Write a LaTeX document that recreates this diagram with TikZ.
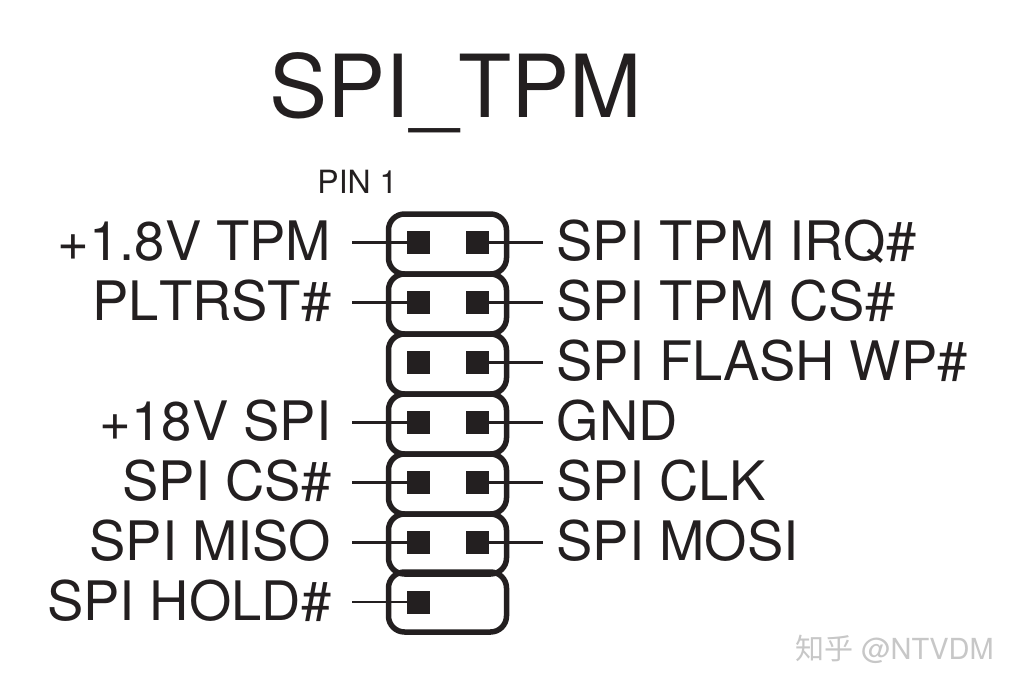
\documentclass[tikz,border=0pt]{standalone}
\usepackage{fontspec}
\setmainfont[Kerning=Off]{TeX Gyre Heros}
\newfontfamily\cjk{Noto Sans CJK SC}
\definecolor{ink}{HTML}{231F20}
\tikzset{
  cell/.style={draw=ink,line width=5.5pt,rounded corners=16pt,minimum width=118pt,minimum height=60pt,inner sep=0pt},
  pin/.style={fill=ink,minimum size=23pt,inner sep=0pt},
  wire/.style={draw=ink,line width=2.6pt},
  lefttext/.style={anchor=base east,inner sep=0pt,font=\fontsize{54.4}{54}\selectfont,text=ink},
  righttext/.style={anchor=base west,inner sep=0pt,font=\fontsize{54.4}{54}\selectfont,text=ink}
}
\begin{document}
\begin{tikzpicture}[x=1pt,y=-1pt]
\useasboundingbox (0,0) rectangle (1020,689);
\fill[white] (0,0) rectangle (1020,689);
\node[anchor=base,inner sep=0pt,font=\fontsize{87}{87}\selectfont,text=ink] (title) at (456,117) {SPI\_TPM};
\node[anchor=base,inner sep=0pt,font=\fontsize{32}{32}\selectfont,text=ink] (pinone) at (357.5,193) {PIN 1};
% row boxes
\foreach \n/\y in {1/244,2/304,3/364,4/424,5/484,6/544,7/602}{
  \node[cell] (c\n) at (447.5,\y) {};
}
% pins
\foreach \n/\y in {1/242.5,2/302.5,3/362.5,4/422.5,5/482.5,6/542.5,7/602}{
  \node[pin] (l\n) at (418.5,\y) {};
}
\foreach \n/\y in {1/242.5,2/302.5,3/362.5,4/422.5,5/482.5,6/542.5}{
  \node[pin] (r\n) at (477.5,\y) {};
}
% free wire ends
\foreach \n/\y in {1/242.5,2/302.5,4/422.5,5/482.5,6/542.5,7/602}{
  \coordinate (a\n) at (352,\y);
  \draw[wire] (a\n) -- (l\n.west);
}
\foreach \n/\y in {1/242.5,2/302.5,3/362.5,4/422.5,5/482.5,6/542.5}{
  \coordinate (b\n) at (543,\y);
  \draw[wire] (r\n.east) -- (b\n);
}
% labels
\node[lefttext] (t1) at (331.5,260) {+1.8V TPM};
\node[lefttext] (t2) at (331.5,320) {PLTRST\#};
\node[lefttext] (t4) at (331.5,440) {+18V SPI};
\node[lefttext] (t5) at (331.5,500) {SPI CS\#};
\node[lefttext] (t6) at (331.5,560) {SPI MISO};
\node[lefttext] (t7) at (331.5,620) {SPI HOLD\#};
\node[righttext] (s1) at (556.5,260) {SPI TPM IRQ\#};
\node[righttext] (s2) at (556.5,320) {SPI TPM CS\#};
\node[righttext] (s3) at (556.5,380) {SPI FLASH WP\#};
\node[righttext] (s4) at (556.5,440) {GND};
\node[righttext] (s5) at (556.5,500) {SPI CLK};
\node[righttext] (s6) at (556.5,560) {SPI MOSI};
\node[anchor=base west,inner sep=0pt,font=\fontsize{29}{29}\selectfont,text=black!22] (mark) at (795,659) {{\cjk 知乎} @NTVDM};
\end{tikzpicture}
\end{document}
